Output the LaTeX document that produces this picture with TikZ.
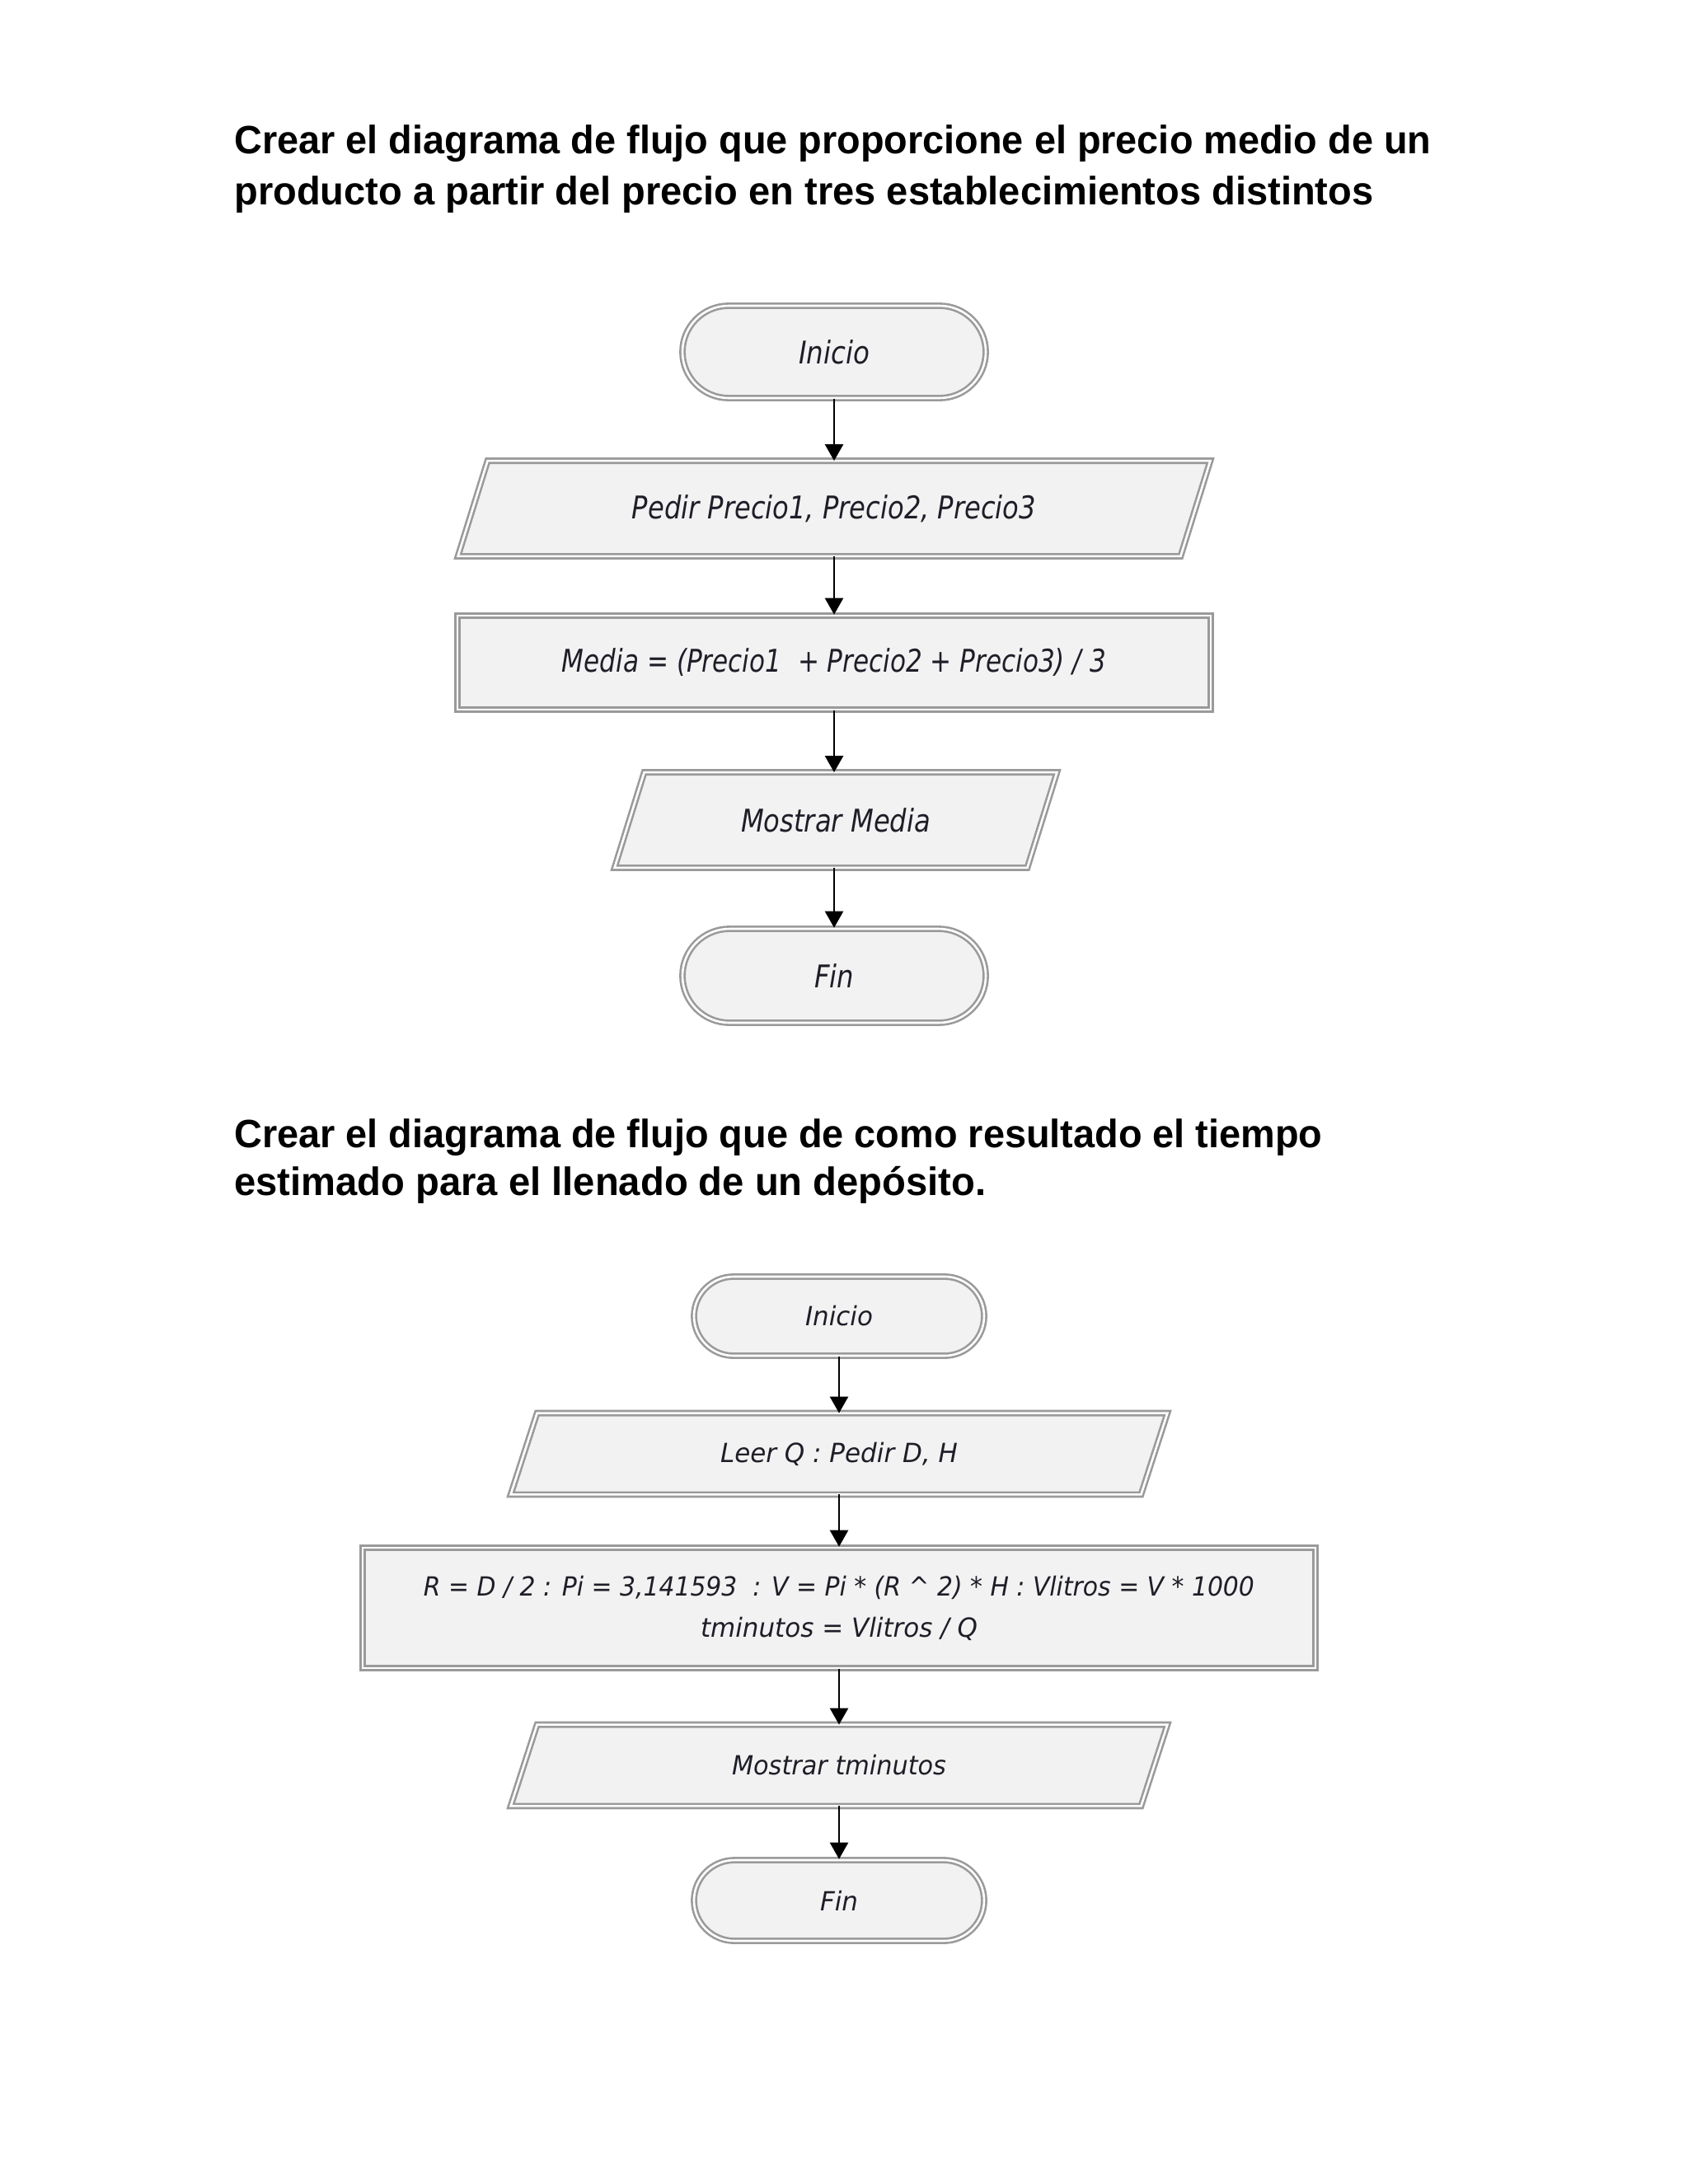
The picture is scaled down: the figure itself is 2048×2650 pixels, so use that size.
\documentclass[tikz,border=0pt]{standalone}
\usepackage{fontspec}
\usepackage{graphicx}
\setmainfont{Liberation Sans}
\newfontfamily\boxfont{DejaVu Sans}
\usetikzlibrary{arrows.meta,backgrounds}
\definecolor{bord}{HTML}{9A9A9A}
\definecolor{boxfill}{HTML}{F2F2F2}
\definecolor{txt}{HTML}{1E1E28}
\newcommand{\fitw}[2]{\resizebox{#1}{\height}{#2}}
\tikzset{
  shpline/.style={draw=bord, line width=1.3pt, double=white, double distance=1.3pt, fill=boxfill},
  shp/.style={shpline, inner sep=0pt, text=txt,
              font=\boxfont\itshape\fontsize{19}{23}\selectfont},
  shpsmall/.style={shp, font=\boxfont\itshape\fontsize{16}{25}\selectfont},
  iotext/.style={rectangle, inner sep=0pt, text=txt,
              font=\boxfont\itshape\fontsize{19}{23}\selectfont},
  iotextsmall/.style={iotext, font=\boxfont\itshape\fontsize{16}{25}\selectfont},
  title/.style={inner sep=0pt, anchor=base west, font=\fontsize{24}{28}\selectfont\bfseries},
  arr/.style={line width=1.2pt, -{Triangle[length=10pt,width=11pt]}}
}
\newcommand{\paral}[2]{\path[shpline] ([xshift=#2]#1.north west) -- (#1.north east) -- ([xshift=-#2]#1.south east) -- (#1.south west) -- cycle;}
\begin{document}
\begin{tikzpicture}[x=0.5pt,y=-0.5pt]
\begin{scope}[on background layer]
\fill[white] (0,0) rectangle (2048,2650);
\end{scope}
\useasboundingbox (0,0) rectangle (2048,2650);

% ---- titles
\node[title] (t1a) at (284,186) {\fitw{726pt}{Crear el diagrama de flujo que proporcione el precio medio de un}};
\node[title] (t1b) at (284,248) {\fitw{691pt}{producto a partir del precio en tres establecimientos distintos}};
\node[title] (t2a) at (284,1392) {\fitw{660pt}{Crear el diagrama de flujo que de como resultado el tiempo}};
\node[title] (t2b) at (284,1450) {\fitw{456pt}{estimado para el llenado de un depósito.}};

% ---- diagram 1
\node[shp, rectangle, minimum width=184pt, minimum height=56pt, rounded corners=28pt] (i1) at (1012,427) {\fitw{43pt}{Inicio}};
\node[iotext, minimum width=456pt, minimum height=57.5pt] (p1) at (1012,617) {\fitw{245pt}{Pedir Precio1, Precio2, Precio3}};
\node[shp, rectangle, minimum width=457pt, minimum height=57pt] (c1) at (1012,804) {\fitw{330pt}{Media = (Precio1 \ + Precio2 + Precio3) / 3}};
\node[iotext, minimum width=268pt, minimum height=57.5pt] (m1) at (1014,995) {\fitw{115pt}{Mostrar Media}};
\node[shp, rectangle, minimum width=184pt, minimum height=57pt, rounded corners=28.5pt] (f1) at (1012,1184) {\fitw{24pt}{Fin}};

\draw[arr] (i1.south) -- (p1.north);
\draw[arr] (p1.south) -- (c1.north);
\draw[arr] (c1.south) -- (m1.north -| c1.south);
\draw[arr] (m1.south -| f1.north) -- (f1.north);

% ---- diagram 2
\node[shpsmall, rectangle, minimum width=176pt, minimum height=48pt, rounded corners=24pt] (i2) at (1018,1597) {\fitw{41pt}{Inicio}};
\node[iotextsmall, minimum width=398pt, minimum height=49pt] (p2) at (1018,1764) {\fitw{144pt}{Leer Q : Pedir D, H}};
\node[shpsmall, rectangle, minimum width=578pt, minimum height=73pt, align=center] (c2) at (1018,1951)
  {\fitw{504pt}{R = D / 2 : Pi = 3,141593 \ : V = Pi * (R \^{} 2) * H : Vlitros = V * 1000}\\
   \fitw{168pt}{tminutos = Vlitros / Q}};
\node[iotextsmall, minimum width=398pt, minimum height=49pt] (m2) at (1018,2142) {\fitw{130pt}{Mostrar tminutos}};
\node[shpsmall, rectangle, minimum width=176pt, minimum height=49pt, rounded corners=24.5pt] (f2) at (1018,2306) {\fitw{23pt}{Fin}};

\draw[arr] (i2.south) -- (p2.north);
\draw[arr] (p2.south) -- (c2.north);
\draw[arr] (c2.south) -- (m2.north);
\draw[arr] (m2.south) -- (f2.north);

% ---- parallelogram outlines behind their texts
\begin{scope}[on background layer]
\paral{p1}{18pt}
\paral{m1}{18pt}
\paral{p2}{16pt}
\paral{m2}{16pt}
\end{scope}
\end{tikzpicture}
\end{document}
